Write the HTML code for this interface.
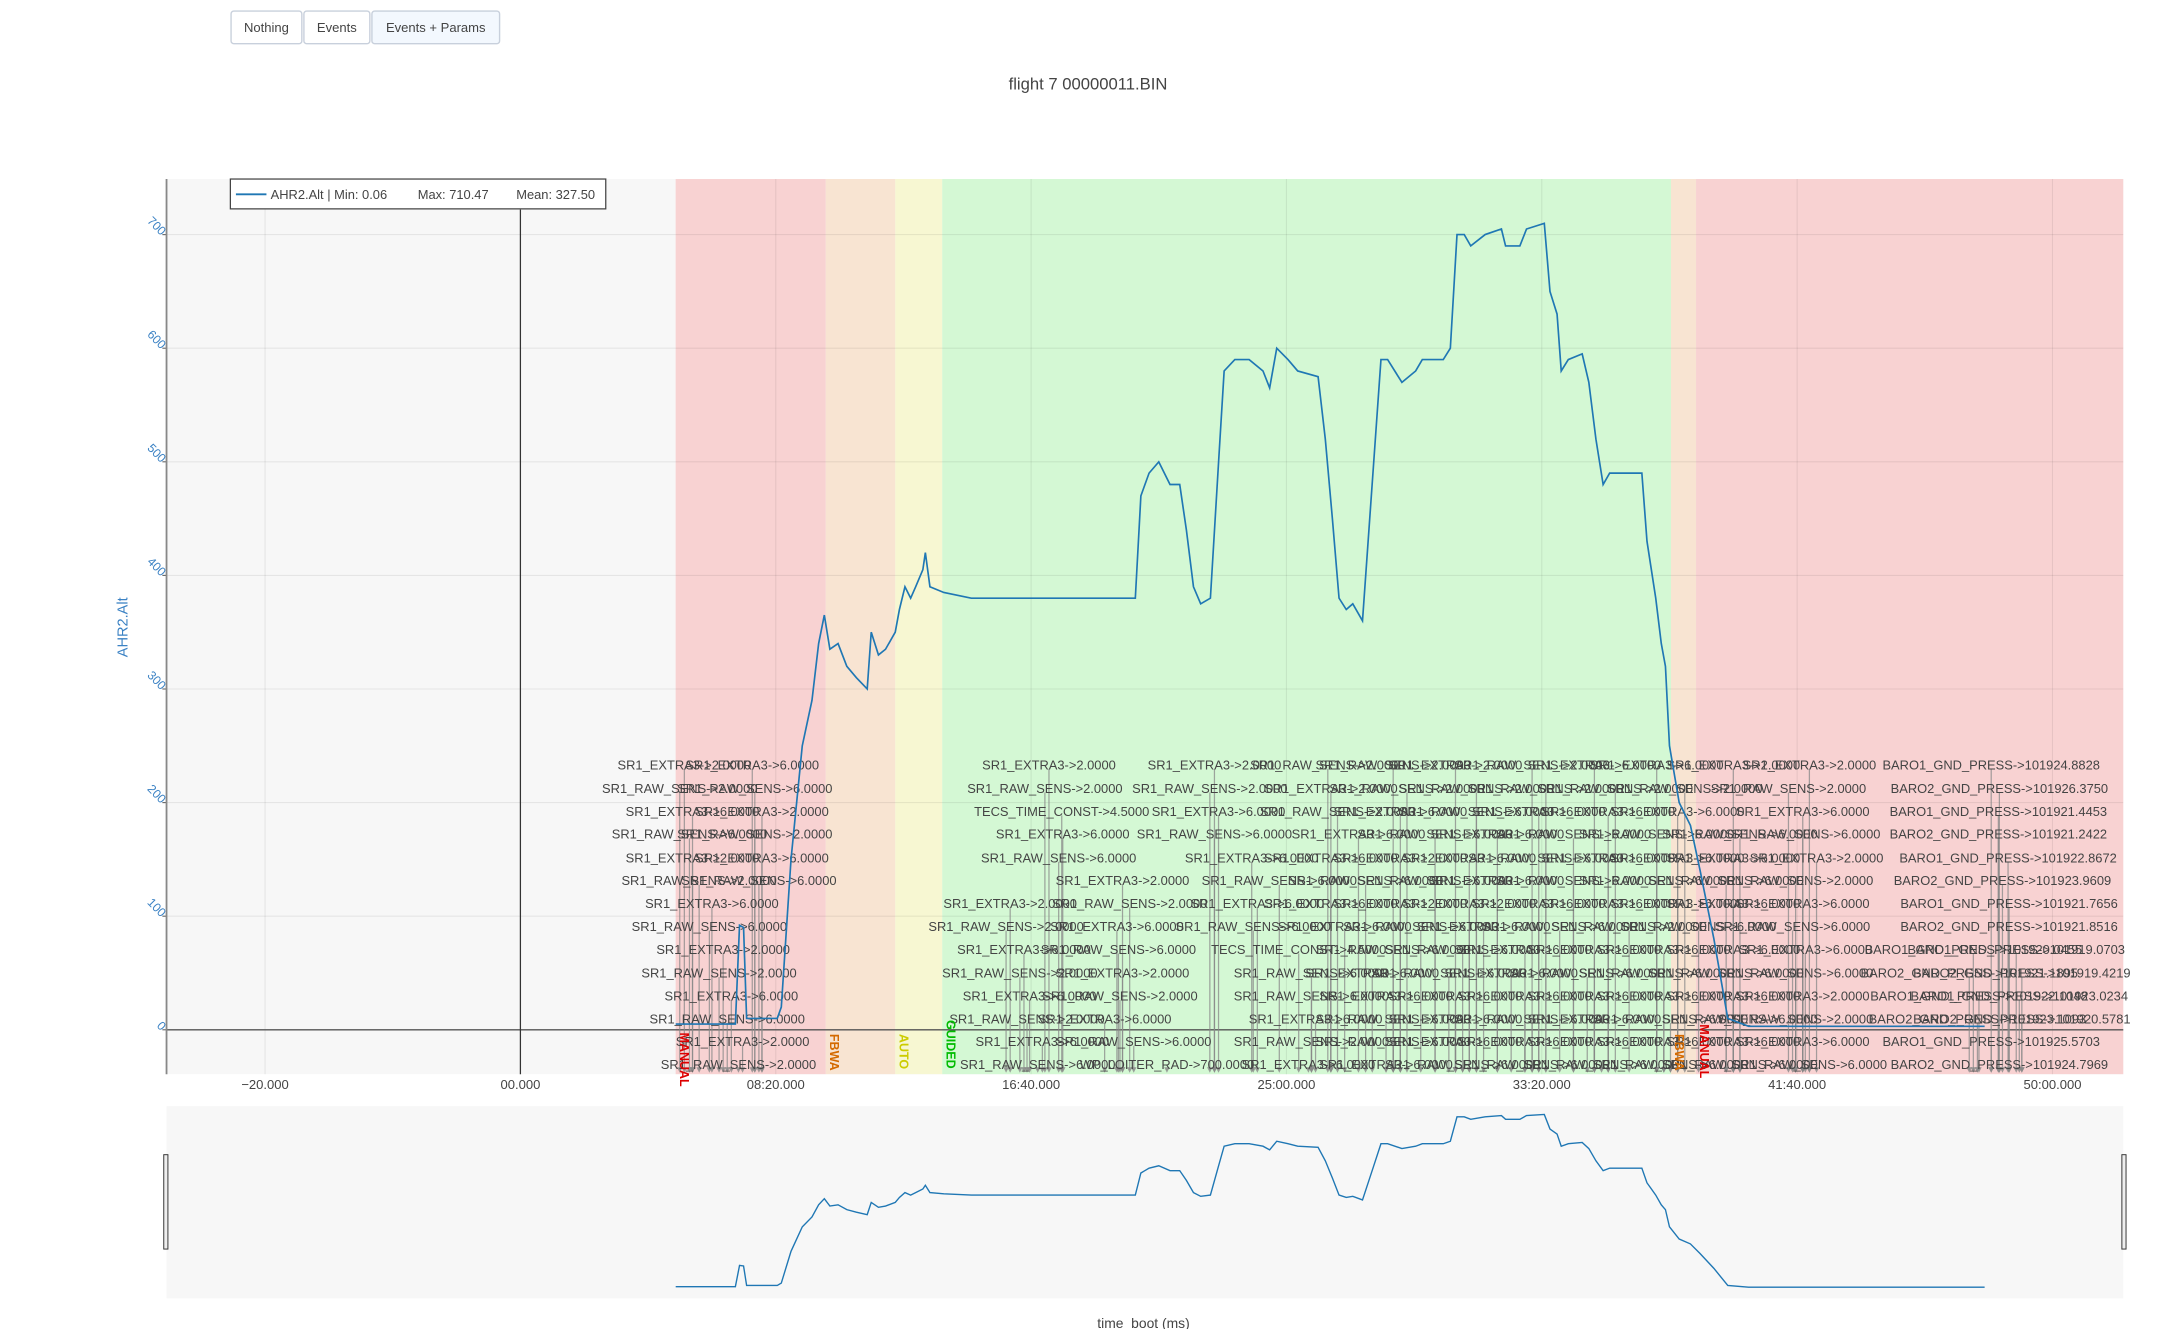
<!DOCTYPE html>
<html><head><meta charset="utf-8">
<style>
html,body{margin:0;padding:0;background:#fff;}
svg{display:block;font-family:"Liberation Sans",sans-serif;}
</style></head>
<body>
<svg id="chart" width="2176" height="1329" viewBox="0 0 1568 957.6" preserveAspectRatio="none" xmlns="http://www.w3.org/2000/svg">
<g id="buttons">
<rect x="166.5" y="8" width="51" height="23.5" rx="2" fill="#fff" stroke="#c8d0dc"/>
<text x="192" y="23" font-size="9.4" fill="#444" text-anchor="middle">Nothing</text>
<rect x="219" y="8" width="47.5" height="23.5" rx="2" fill="#fff" stroke="#c8d0dc"/>
<text x="242.7" y="23" font-size="9.4" fill="#444" text-anchor="middle">Events</text>
<rect x="268" y="8" width="92" height="23.5" rx="2" fill="#f3f8fe" stroke="#c8d0dc"/>
<text x="314" y="23" font-size="9.4" fill="#444" text-anchor="middle">Events + Params</text>
</g>
<text x="784" y="64.5" font-size="12" fill="#444" text-anchor="middle">flight 7 00000011.BIN</text>
<g id="main"></g>
<g id="nav"></g>
<text x="824" y="957" font-size="10" fill="#444" text-anchor="middle">time_boot (ms)</text>
</svg>
<script>
// ---- data ----
const timeSec = [304,421,429,437,443,503,511,530,552,571,584,595,606,622,639,658,679,687,701,715,734,742,753,764,774,788,793,802,829,883,992,1101,1204,1215,1231,1250,1272,1291,1304,1318,1332,1351,1367,1378,1399,1427,1454,1467,1481,1503,1522,1562,1576,1590,1603,1617,1630,1649,1671,1685,1698,1726,1753,1766,1780,1807,1821,1834,1848,1861,1889,1921,1929,1957,1970,2005,2016,2030,2038,2052,2079,2092,2106,2120,2133,2160,2196,2206,2223,2234,2242,2250,2269,2291,2310,2337,2364,2405,2867];
const altitude = [5,5,92,90,10,10,20,150,250,290,340,365,335,340,320,310,300,350,330,335,350,370,390,380,390,405,420,390,385,380,380,380,380,470,490,500,480,480,440,390,375,380,500,580,590,590,580,565,600,590,580,575,520,450,380,370,375,360,500,590,590,570,580,590,590,590,600,700,700,690,700,705,690,690,705,710,650,630,580,590,595,570,520,480,490,490,490,430,380,340,320,250,200,180,140,80,10,3,3];
const modeNames = ["MANUAL","FBWA","AUTO","GUIDED","FBWA","MANUAL"];
const modeStart = [304,598,734,826,2253,2302];
const modeEnd = [598,734,826,2253,2302,3139];
const xTickSec = [-500,0,500,1000,1500,2000,2500,3000];
const xTickLabels = ["\u221220.000","00.000","08:20.000","16:40.000","25:00.000","33:20.000","41:40.000","50:00.000"];
const yTicks = [0,100,200,300,400,500,600,700];
const labelText = {E2:"SR1_EXTRA3->2.0000",E6:"SR1_EXTRA3->6.0000",R2:"SR1_RAW_SENS->2.0000",R6:"SR1_RAW_SENS->6.0000",T:"TECS_TIME_CONST->4.5000",W:"WP_LOITER_RAD->700.0000"};
const annRows = [
 [[321,"E2"],[454,"E6"],[1035,"E2"],[1359,"E2"],[1581,"R2"],[1709,"R2"],[1831,"E2"],[1981,"R2"],[2103,"E6"],[2225,"E6"],[2375,"E2"],[2524,"E2"],[2880,"BARO1_GND_PRESS->101924.8828"]],
 [[312,"R2"],[459,"R6"],[1027,"R2"],[1350,"R2"],[1587,"E2"],[1736,"R2"],[1872,"R2"],[2008,"R2"],[2144,"R2"],[2280,"R2"],[2483,"R2"],[2896,"BARO2_GND_PRESS->101926.3750"]],
 [[337,"E6"],[473,"E2"],[1060,"T"],[1367,"E6"],[1600,"R2"],[1723,"E6"],[1872,"R6"],[1994,"E6"],[2130,"E6"],[2266,"E6"],[2511,"E6"],[2894,"BARO1_GND_PRESS->101921.4453"]],
 [[331,"R6"],[459,"R2"],[1062,"E6"],[1359,"R6"],[1641,"E6"],[1791,"R6"],[1913,"E6"],[2062,"R6"],[2225,"R6"],[2388,"R6"],[2511,"R6"],[2894,"BARO2_GND_PRESS->101921.2422"]],
 [[337,"E2"],[473,"E6"],[1054,"R6"],[1432,"E6"],[1587,"E6"],[1723,"E2"],[1858,"E6"],[2008,"R6"],[2130,"E6"],[2266,"E6"],[2375,"E6"],[2538,"E2"],[2913,"BARO1_GND_PRESS->101922.8672"]],
 [[350,"R2"],[467,"R6"],[1179,"E2"],[1486,"R6"],[1655,"R6"],[1791,"R6"],[1913,"E6"],[2062,"R6"],[2225,"R6"],[2361,"R6"],[2497,"R2"],[2902,"BARO2_GND_PRESS->101923.9609"]],
 [[375,"E6"],[959,"E2"],[1193,"R2"],[1443,"E6"],[1587,"E6"],[1723,"E2"],[1858,"E2"],[1994,"E6"],[2130,"E6"],[2266,"E6"],[2375,"E6"],[2511,"E6"],[2915,"BARO1_GND_PRESS->101921.7656"]],
 [[370,"R6"],[951,"R2"],[1168,"E6"],[1435,"R6"],[1614,"E6"],[1763,"R6"],[1886,"E6"],[2035,"R6"],[2171,"R2"],[2307,"R6"],[2491,"R6"],[2915,"BARO2_GND_PRESS->101921.8516"]],
 [[397,"E2"],[986,"E6"],[1171,"R6"],[1524,"T"],[1709,"R6"],[1845,"R6"],[1967,"E6"],[2103,"E6"],[2239,"E6"],[2375,"E6"],[2516,"E6"],[2845,"BARO1_GND_PRESS->101920.0455"],[2929,"BARO1_GND_PRESS->101919.0703"]],
 [[389,"R2"],[978,"R2"],[1179,"E2"],[1549,"R6"],[1668,"E6"],[1818,"R6"],[1940,"E6"],[2089,"R6"],[2225,"R6"],[2361,"R6"],[2497,"R6"],[2837,"BARO2_GND_PRESS->101921.1895"],[2940,"BARO2_GND_PRESS->101919.4219"]],
 [[413,"E6"],[997,"E6"],[1174,"R2"],[1549,"R6"],[1695,"E6"],[1831,"E6"],[1967,"E6"],[2103,"E6"],[2239,"E6"],[2375,"E6"],[2511,"E2"],[2856,"BARO1_GND_PRESS->101922.1048"],[2935,"BARO1_GND_PRESS->101923.0234"]],
 [[405,"R6"],[992,"R2"],[1144,"E6"],[1557,"E6"],[1709,"R6"],[1831,"E6"],[1981,"R6"],[2103,"E6"],[2252,"R6"],[2388,"R6"],[2497,"R2"],[2853,"BARO2_GND_PRESS->101923.1093"],[2940,"BARO2_GND_PRESS->101920.5781"]],
 [[435,"E2"],[1022,"E6"],[1201,"R6"],[1549,"R2"],[1709,"R6"],[1831,"E6"],[1967,"E6"],[2103,"E6"],[2239,"E6"],[2375,"E6"],[2511,"E6"],[2880,"BARO1_GND_PRESS->101925.5703"]],
 [[427,"R2"],[1013,"R6"],[1266,"W"],[1543,"E6"],[1695,"E6"],[1845,"R6"],[1981,"R6"],[2117,"R6"],[2252,"R6"],[2388,"R6"],[2524,"R6"],[2896,"BARO2_GND_PRESS->101924.7969"]]
];
</script>
<script>
const NS="http://www.w3.org/2000/svg";
const L=120,R=1530,T=129,B=774;
const x=s=>375+s*184/500;
const y=a=>742-a*0.8185;
const ny=a=>928-a*0.1761;
function mk(tag,attrs,parent){const e=document.createElementNS(NS,tag);for(const k in attrs)e.setAttribute(k,attrs[k]);parent.appendChild(e);return e;}
const main=document.getElementById('main'), nav=document.getElementById('nav');
let bg=mk('rect',{x:L,y:T,width:R-L,height:B-T,fill:'#f7f7f7'},main);


const modeFill={MANUAL:'#f8d2d2',FBWA:'#f8e4d2',AUTO:'#f7f7d2',GUIDED:'#d4f8d4'};
const modeColor={MANUAL:'#dd0000',FBWA:'#d46a00',AUTO:'#cccc00',GUIDED:'#00bb00'};
modeNames.forEach((m,i)=>{
  const r=mk('rect',{x:x(modeStart[i]),y:T,width:Math.min(x(modeEnd[i]),R)-x(modeStart[i]),height:B-T,fill:modeFill[m]},main);
  
  
});
xTickSec.forEach((s,i)=>{
  mk('line',{x1:x(s),x2:x(s),y1:T,y2:B,stroke:'#000','stroke-opacity':0.07,'stroke-width':0.8},main);
  const t=mk('text',{x:x(s),y:B+10.5,'font-size':9.4,fill:'#444','text-anchor':'middle'},main);
  t.textContent=xTickLabels[i];
  
  
});
yTicks.forEach(v=>{
  if(v>0) mk('line',{x1:L,x2:R,y1:y(v),y2:y(v),stroke:'#000','stroke-opacity':0.07,'stroke-width':0.8},main);
  mk('line',{x1:L-3,x2:L,y1:y(v),y2:y(v),stroke:'#666','stroke-width':0.8},main);
  const t=mk('text',{x:116,y:y(v)+1,'font-size':8.8,fill:'#3b82c4','text-anchor':'end',transform:`rotate(45 116 ${y(v)+1})`},main);
  t.textContent=v;
  
  
});
let yt=mk('text',{x:92,y:452,'font-size':10.5,fill:'#3b82c4','text-anchor':'middle',transform:'rotate(-90 92 452)'},main);
yt.textContent='AHR2.Alt';


mk('line',{x1:L,x2:R,y1:y(0),y2:y(0),stroke:'#555','stroke-width':1},main);
mk('line',{x1:L,x2:L,y1:T,y2:B,stroke:'#888','stroke-width':1.3},main);
let t0=mk('line',{x1:x(0),x2:x(0),y1:151,y2:B,stroke:'#333','stroke-width':0.9},main);


const rowY=[551,568,584.5,601,618,634.5,651,667.5,684,701,717.5,734,750.5,767];
const annG=mk('g',{},main);


annRows.forEach((row,ri)=>{
  row.forEach(([s,code])=>{
    const cx=x(s), ty=rowY[ri];
    mk('line',{x1:cx,x2:cx,y1:ty+3,y2:B-3,stroke:'#888','stroke-opacity':0.75,'stroke-width':0.9},annG);
    mk('path',{d:`M${cx-2} ${B-5}L${cx} ${B-1}L${cx+2} ${B-5}Z`,fill:'#888','fill-opacity':0.8},annG);
  });
});
annRows.forEach((row,ri)=>{
  row.forEach(([s,code])=>{
    const t=mk('text',{x:x(s),y:rowY[ri]+3.3,'font-size':9.3,fill:'#444','text-anchor':'middle'},annG);
    t.textContent=labelText[code]||code;
    
    
  });
});
const modeLabelY=[744,745,745,735,745,738];
modeNames.forEach((m,i)=>{
  const lx=x(modeStart[i])+3, ly=modeLabelY[i];
  const t=mk('text',{x:lx,y:ly,'font-size':9,'font-weight':'bold',fill:modeColor[m],transform:`rotate(90 ${lx} ${ly})`},main);
  t.textContent=m;
  
  
});
let d=timeSec.map((s,i)=>(i?'L':'M')+x(s).toFixed(1)+' '+y(altitude[i]).toFixed(1)).join('');
const line=mk('path',{d:d,fill:'none',stroke:'#1f77b4','stroke-width':1.2},main);


const lg=mk('g',{},main);


mk('rect',{x:166,y:129,width:270.5,height:21.5,fill:'#fff',stroke:'#444','stroke-width':0.9},lg);
mk('line',{x1:170,x2:192,y1:140,y2:140,stroke:'#1f77b4','stroke-width':1.3},lg);
[[195,'AHR2.Alt | Min: 0.06'],[301,'Max: 710.47'],[372,'Mean: 327.50']].forEach(([lx,s])=>{
  const lt=mk('text',{x:lx,y:143.5,'font-size':9.3,fill:'#444'},lg);
  lt.textContent=s;
  
  
});
const nb=mk('rect',{x:L,y:797,width:R-L,height:138.5,fill:'#f7f7f7'},nav);


let nd=timeSec.map((s,i)=>(i?'L':'M')+x(s).toFixed(1)+' '+ny(altitude[i]).toFixed(1)).join('');
const nl=mk('path',{d:nd,fill:'none',stroke:'#1f77b4','stroke-width':1},nav);


[L-2,R-1].forEach((hx,i)=>{
  const h=mk('rect',{x:hx,y:832,width:3,height:68,fill:'#eee',stroke:'#333','stroke-width':0.7},nav);
  
  
});
</script>
</body></html>
